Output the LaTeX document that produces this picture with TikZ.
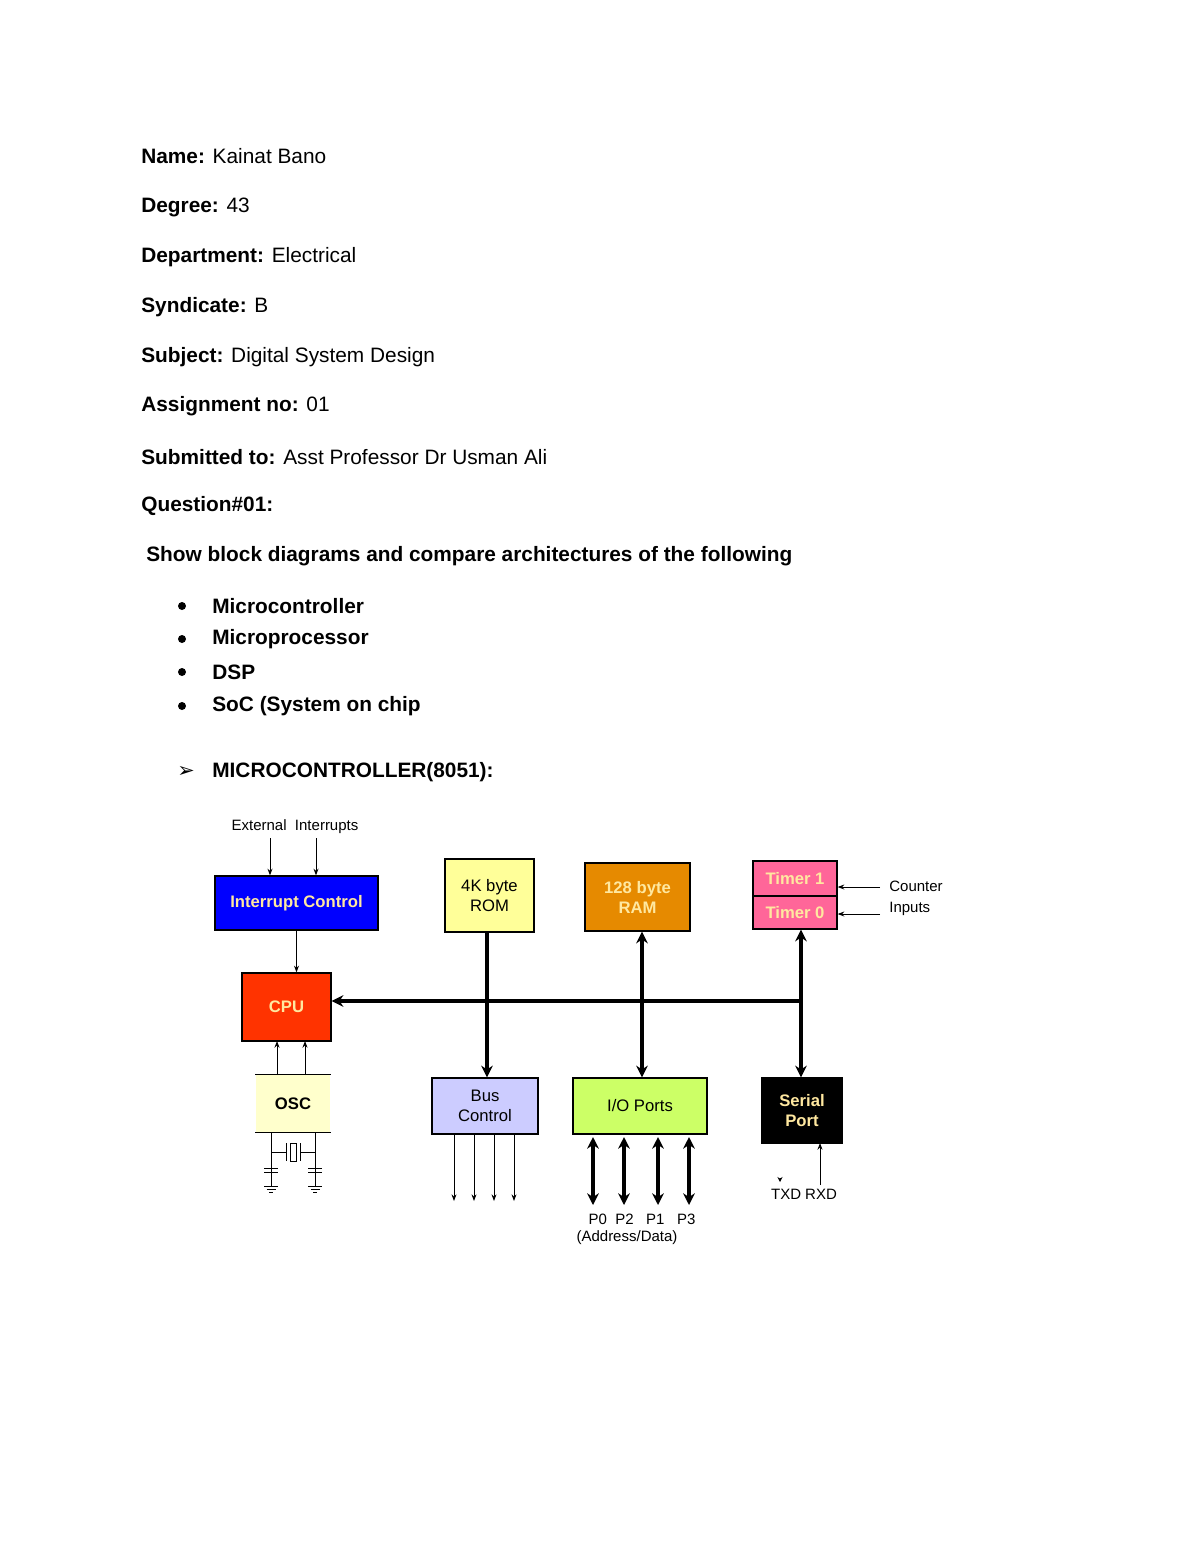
\documentclass[tikz,border=0pt]{standalone}
\usepackage{fontspec}
\setmainfont{Liberation Sans}
\newfontfamily\dvs{DejaVu Sans}
\usetikzlibrary{arrows.meta}
\definecolor{icblue}{HTML}{0000FF}
\definecolor{cpured}{HTML}{FF3300}
\definecolor{romyel}{HTML}{FFFF99}
\definecolor{ramor}{HTML}{E68A00}
\definecolor{tmpink}{HTML}{FF6699}
\definecolor{oscyel}{HTML}{FFFFCC}
\definecolor{buslav}{HTML}{CCCCFF}
\definecolor{iogrn}{HTML}{CCFF66}
\definecolor{lighttxt}{HTML}{FFE8A0}
\begin{document}
\begin{tikzpicture}[x=0.6pt,y=-0.6pt,
  hdr/.style={anchor=west,font=\fontsize{12.5}{14}\selectfont,inner sep=0},
  blk/.style={draw,thick,align=center,font=\fontsize{10}{12}\selectfont,inner sep=0},
  thin/.style={-{Stealth[length=4pt,width=3pt]},semithick},
  bus/.style={line width=2.2pt},
  busar/.style={bus,-{Stealth[length=7pt,width=7pt]}},
  busdd/.style={bus,{Stealth[length=7pt,width=7pt]}-{Stealth[length=7pt,width=7pt]}},
  lab/.style={font=\fontsize{9}{10}\selectfont,inner sep=0}]
\useasboundingbox (0,0) rectangle (1200,1553);
\fill[white] (0,0) rectangle (1200,1553);
% header
\node[hdr] (h1) at (141,156) {\textbf{Name:} Kainat Bano};
\node[hdr] (h2) at (141,207) {\textbf{Degree:} 43};
\node[hdr] (h3) at (141,257) {\textbf{Department:} Electrical};
\node[hdr] (h4) at (141,307) {\textbf{Syndicate:} B};
\node[hdr] (h5) at (141,357) {\textbf{Subject:} Digital System Design};
\node[hdr] (h6) at (141,406) {\textbf{Assignment no:} 01};
\node[hdr] (h7) at (141,457) {\textbf{Submitted to:} Asst Professor Dr Usman Ali};
\node[hdr] (h8) at (141,506) {\textbf{Question\#01:}};
\node[hdr] (h9) at (146,556) {\textbf{Show block diagrams and compare architectures of the following}};
\foreach \y/\t [count=\i] in {606/Microcontroller,639/Microprocessor,672/DSP,706/SoC (System on chip}{
  \fill (182,\y) circle (4);
  \node[hdr] (b\i) at (212,\y) {\textbf{\t}};
}
\node[hdr] (arr) at (177,772) {\dvs ➢};
\node[hdr] (mc) at (212,772) {\textbf{MICROCONTROLLER(8051):}};
% blocks
\node[blk,fill=icblue,text=lighttxt,minimum width=163*0.6pt,minimum height=54*0.6pt] (ic) at (296.5,903) {\textbf{Interrupt Control}};
\node[blk,fill=cpured,text=lighttxt,minimum width=89*0.6pt,minimum height=68*0.6pt] (cpu) at (286.5,1007) {\textbf{CPU}};
\node[blk,fill=romyel,minimum width=89*0.6pt,minimum height=73*0.6pt] (rom) at (489.5,895.5) {4K byte\\ROM};
\node[blk,fill=ramor,text=lighttxt,minimum width=105*0.6pt,minimum height=68*0.6pt] (ram) at (637.5,897) {\textbf{128 byte}\\\textbf{RAM}};
\node[blk,fill=tmpink,text=lighttxt,minimum width=84*0.6pt,minimum height=35*0.6pt] (t1) at (795,878.5) {\textbf{Timer 1}};
\node[blk,fill=tmpink,text=lighttxt,minimum width=84*0.6pt,minimum height=33*0.6pt] (t0) at (795,912.5) {\textbf{Timer 0}};
\node[blk,draw=none,fill=oscyel,minimum width=74*0.6pt,minimum height=57*0.6pt] (osc) at (293,1103.5) {\textbf{OSC}};
\draw[thick] (osc.north west) -- (osc.north east) (osc.south west) -- (osc.south east);
\node[blk,fill=buslav,minimum width=106*0.6pt,minimum height=56*0.6pt] (bc) at (485,1106) {Bus\\Control};
\node[blk,fill=iogrn,minimum width=134*0.6pt,minimum height=56*0.6pt] (io) at (640,1106) {I/O Ports};
\node[blk,fill=black,text=lighttxt,minimum width=80*0.6pt,minimum height=65*0.6pt] (sp) at (802,1110.5) {\textbf{Serial}\\\textbf{Port}};
% labels
\node[lab] (ext) at (295,827) {External\ \ Interrupts};
\node[lab,anchor=west] (cnt) at (889,886) {Counter};
\node[lab,anchor=west] (inp) at (889,909) {Inputs};
\node[lab] (txd) at (804,1194) {TXD RXD};
\node[lab] (pl) at (642,1219) {P0\ \ P2\ \ \ P1\ \ \ P3};
\node[lab] (ad) at (627,1238) {(Address/Data)};
% coordinates
\coordinate (e1) at (270,838); \coordinate (e2) at (316,838);
\coordinate (c1a) at (880,887); \coordinate (c0a) at (880,914);
\coordinate (j1) at (487,1001); \coordinate (j2) at (642,1001); \coordinate (j3) at (801,1001);
% thin arrows
\draw[thin] (e1) -- (e1 |- ic.north);
\draw[thin] (e2) -- (e2 |- ic.north);
\draw[thin] (ic.south) -- (ic.south |- cpu.north);
\draw[thin] (277,1075) -- (277,1041);
\draw[thin] (305,1075) -- (305,1041);
\draw[thin] (c1a) -- (c1a -| t1.east);
\draw[thin] (c0a) -- (c0a -| t0.east);
\foreach \x in {454,474,494,514} \draw[thin] (\x,1134) -- (\x,1201);
\draw[thin] (820,1185) -- (820,1143);
\draw[-{Stealth[length=3pt,width=3pt]},semithick] (780,1178) -- (780,1182);
% bus
\draw[busar] (j3) -- (cpu.east |- j3);
\draw[busar] (rom.south -| j1) -- (j1 |- bc.north);
\draw[busdd] (ram.south -| j2) -- (j2 |- io.north);
\draw[busdd] (t0.south -| j3) -- (j3 |- sp.north);
\foreach \x in {593,624,658,689} \draw[busdd] (\x,1137) -- (\x,1205);
% crystal circuit
\begin{scope}[semithick]
\draw (271,1132) -- (271,1186) (315,1132) -- (315,1186);
\draw (271,1152) -- (286,1152) (300,1152) -- (315,1152);
\draw (286,1143) -- (286,1161) (300,1143) -- (300,1161);
\draw (290,1143) rectangle (296,1161);
\foreach \x in {271,315}{
 \draw (\x-7,1168) -- (\x+7,1168) (\x-7,1172) -- (\x+7,1172);
 \draw (\x-7,1186) -- (\x+7,1186) (\x-4.5,1189) -- (\x+4.5,1189) (\x-2,1192) -- (\x+2,1192);
}
\end{scope}
\end{tikzpicture}
\end{document}
